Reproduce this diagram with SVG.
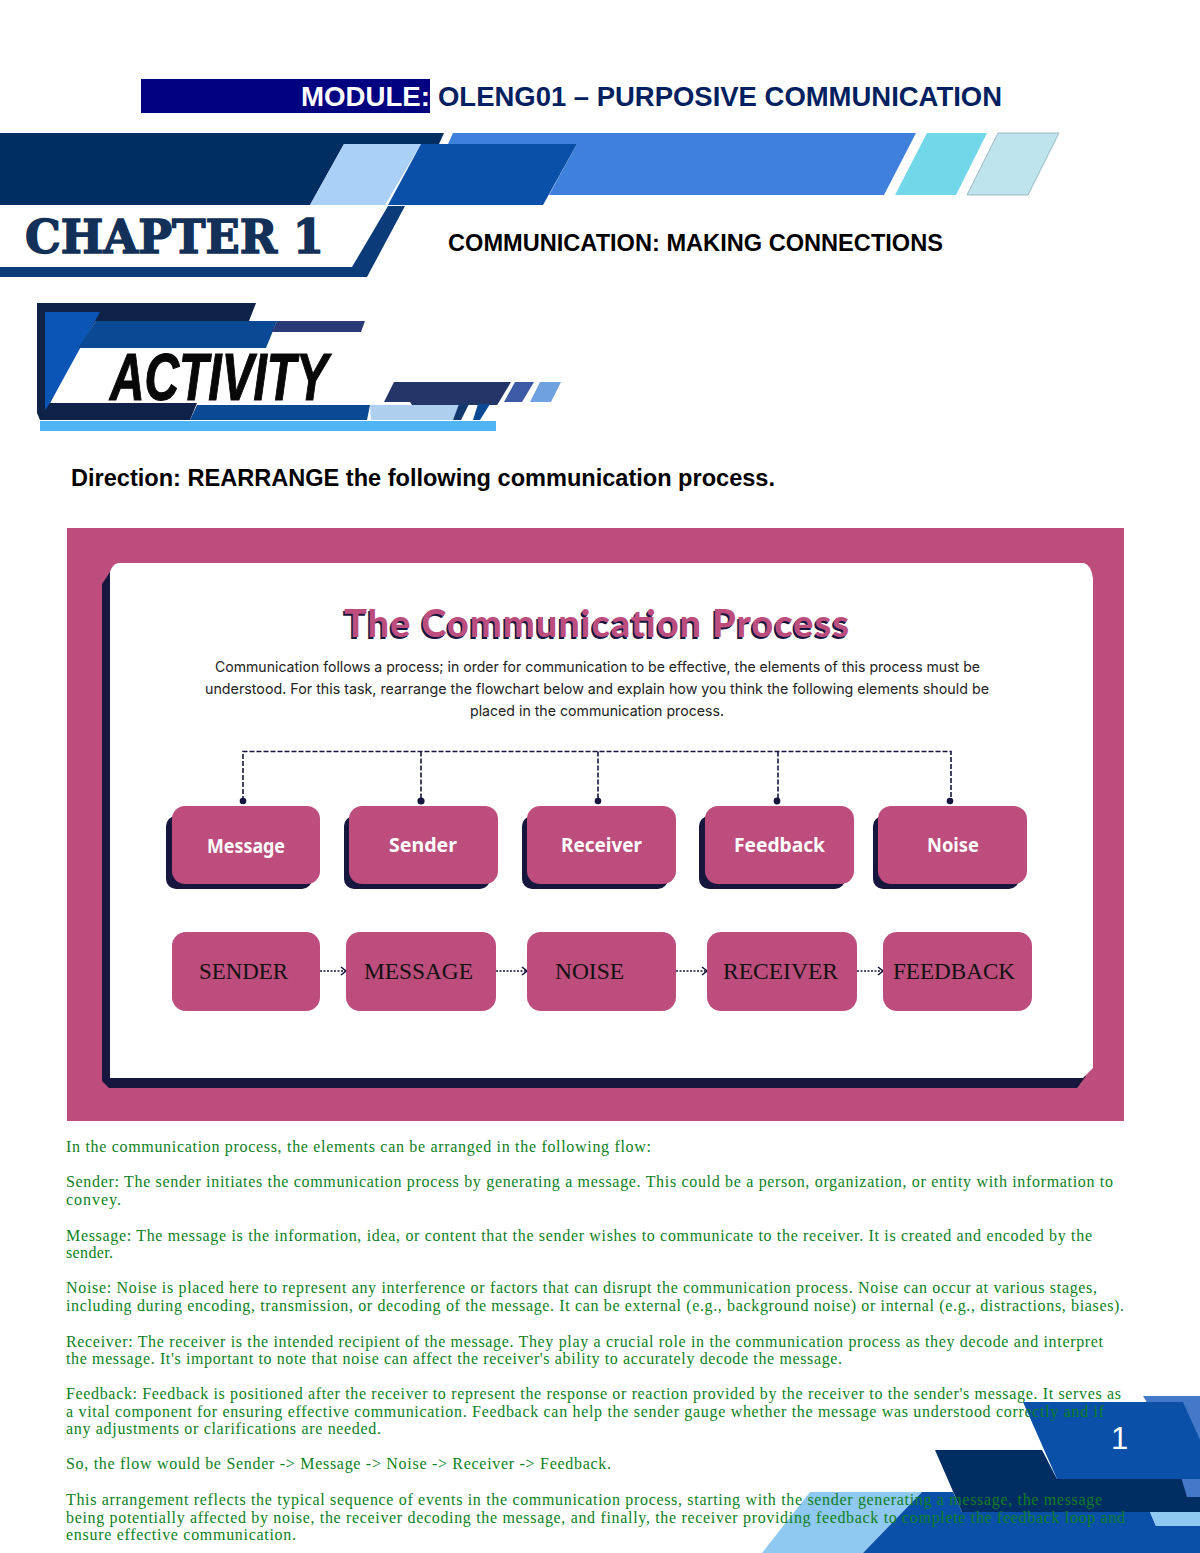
<svg xmlns="http://www.w3.org/2000/svg" width="1200" height="1553" viewBox="0 0 1200 1553">
<style>
.sans{font-family:"Liberation Sans",Arial,sans-serif}
.serif{font-family:"Liberation Serif","Times New Roman",serif}
.hd{font-size:27px;font-weight:bold}
.sub{font-size:23px;font-weight:bold;fill:#000}
.card{font-family:Inter,"Liberation Sans",sans-serif;font-size:14.5px;fill:#222}
.title{font-family:Lato,"Liberation Sans",sans-serif;font-size:38px;font-weight:900}
.pink{fill:#BC4D7C}
.dark{fill:#16163F}
.lbl{font-family:"Noto Sans","Liberation Sans",sans-serif;font-size:20px;font-weight:bold;fill:#fff}
.cap{font-family:"Liberation Serif",serif;font-size:24px;fill:#111}
.body{font-family:"Liberation Serif",serif;font-size:16px;fill:#0E7F22}
.dash{fill:none;stroke:#16163F;stroke-width:1.6;stroke-dasharray:5 2}
.dot{fill:none;stroke:#16163F;stroke-width:1.6;stroke-dasharray:2 1.5}
</style>
<defs>
<marker id="chev" markerWidth="8" markerHeight="10" refX="7" refY="5" orient="auto" markerUnits="userSpaceOnUse">
<path d="M2 1L7 5L2 9" fill="none" stroke="#16163F" stroke-width="1.6"/>
</marker>
</defs>
<rect width="1200" height="1553" fill="#fff"/>

<g id="header">
<rect x="141" y="79" width="289" height="34" fill="#000080"/>
<text class="sans hd" x="301" y="106" fill="#fff" textLength="129" lengthAdjust="spacingAndGlyphs">MODULE:</text>
<text class="sans hd" x="438" y="106" fill="#002060" textLength="564" lengthAdjust="spacingAndGlyphs">OLENG01 – PURPOSIVE COMMUNICATION</text>
</g>

<g id="chapter-banner">
<polygon points="453,133 916,133 884,195 549,195 577,144 448,144" fill="#4080DD"/>
<polygon points="927,133 987,133 956,195 895,195" fill="#72D7E8"/>
<polygon points="998,133 1059,133 1028,195 967,195" fill="#BEE5EE" stroke="#9DB8C0" stroke-width="1"/>
<polygon points="0,133 444,133 439,144 344,144 310,205 0,205" fill="#002D62"/>
<polygon points="344,144 421,144 385,205 310,205" fill="#AAD0F8"/>
<polygon points="421,144 577,144 543,205 388,205" fill="#0A4FA8"/>
<polygon points="388,206 405,206 367,277 0,277 0,267 352,267" fill="#0B3B78"/>
<text x="25" y="253" font-family="'DejaVu Serif',serif" font-size="47" font-weight="bold" fill="#123058" stroke="#123058" stroke-width="1.5" textLength="299" lengthAdjust="spacingAndGlyphs">CHAPTER 1</text>
<text class="sans sub" x="448" y="251" textLength="495" lengthAdjust="spacingAndGlyphs">COMMUNICATION: MAKING CONNECTIONS</text>
</g>

<g id="activity-banner">
<polygon points="40,421 496,421 496,431 40,431" fill="#4FB4F5"/>
<polygon points="370,405 459,405 453,420 371,420" fill="#AFCFEF"/>
<polygon points="37,303 256,303 249,321 96,321 78,348 50,403 197,403 190,420 40,420 37,413" fill="#0E2347"/>
<polygon points="45,312 100,312 50,403 45,410" fill="#0A55B5"/>
<polygon points="197,405 370,405 367,420 190,420" fill="#0A4A94"/>
<polygon points="96,321 277,321 266,348 78,348" fill="#0A4A94"/>
<polygon points="277,321 365,321 361,332 272,332" fill="#2B3B77"/>
<polygon points="394,382 511,382 499,402 384,402" fill="#243668"/>
<polygon points="515,382 534,382 522,402 504,402" fill="#3C5AA5"/>
<polygon points="540,382 561,382 551,402 530,402" fill="#6FA0E0"/>
<polygon points="410,402 499,402 497,405 412,405" fill="#243668"/>
<polygon points="459,404 469,404 461,420 453,420" fill="#12386F"/>
<polygon points="478,404 490,404 480,420 473,420" fill="#0A4A94"/>
<text class="sans" x="110" y="400" font-size="67" font-weight="bold" font-style="italic" fill="#080808" stroke="#080808" stroke-width="1.2" textLength="218" lengthAdjust="spacingAndGlyphs">ACTIVITY</text>
</g>

<text class="sans sub" x="71" y="486" textLength="704" lengthAdjust="spacingAndGlyphs">Direction: REARRANGE the following communication process.</text>

<g id="panel">
<rect x="67" y="528" width="1057" height="593" class="pink"/>
<path d="M110 572L102 584V1081L109 1088H1077L1086 1076H110Z" class="dark"/>
<path d="M118 563H1084Q1091 565 1093 578V1068L1083 1078H110V572Q112 565 118 563Z" fill="#fff"/>
<text class="title dark" x="342.5" y="638.5" textLength="505" lengthAdjust="spacing">The Communication Process</text>
<text class="title pink" x="344" y="637" textLength="505" lengthAdjust="spacing">The Communication Process</text>
<text class="card" x="215" y="672" textLength="765" lengthAdjust="spacingAndGlyphs">Communication follows a process; in order for communication to be effective, the elements of this process must be</text>
<text class="card" x="205" y="694" textLength="784" lengthAdjust="spacingAndGlyphs">understood. For this task, rearrange the flowchart below and explain how you think the following elements should be</text>
<text class="card" x="470" y="716" textLength="254" lengthAdjust="spacingAndGlyphs">placed in the communication process.</text>
</g>

<g id="connectors">
<path class="dash" d="M243 801V751.5H951V801M421 751.5V801M598 751.5V801M778 751.5V801"/>
<circle class="dark" cx="243" cy="801" r="3.3"/>
<circle class="dark" cx="421" cy="801" r="3.6"/>
<circle class="dark" cx="598" cy="801" r="3.3"/>
<circle class="dark" cx="777" cy="801" r="3.4"/>
<circle class="dark" cx="950" cy="801" r="3.3"/>
<path class="dot" d="M320 971H346" marker-end="url(#chev)"/>
<path class="dot" d="M496 971H527" marker-end="url(#chev)"/>
<path class="dot" d="M676 971H707" marker-end="url(#chev)"/>
<path class="dot" d="M857 971H883" marker-end="url(#chev)"/>
</g>

<g id="node-message"><rect x="166" y="816" width="146" height="73" rx="10" class="dark"/><rect x="172" y="806" width="148" height="78" rx="13" class="pink"/><text class="lbl" x="207" y="853" textLength="78" lengthAdjust="spacingAndGlyphs">Message</text></g>
<g id="node-sender"><rect x="344" y="816" width="146" height="73" rx="10" class="dark"/><rect x="349" y="806" width="149" height="78" rx="13" class="pink"/><text class="lbl" x="389" y="852" textLength="68" lengthAdjust="spacingAndGlyphs">Sender</text></g>
<g id="node-receiver"><rect x="522" y="816" width="146" height="73" rx="10" class="dark"/><rect x="527" y="806" width="149" height="78" rx="13" class="pink"/><text class="lbl" x="561" y="852" textLength="81" lengthAdjust="spacingAndGlyphs">Receiver</text></g>
<g id="node-feedback"><rect x="699" y="816" width="146" height="73" rx="10" class="dark"/><rect x="705" y="806" width="149" height="78" rx="13" class="pink"/><text class="lbl" x="734" y="852" textLength="91" lengthAdjust="spacingAndGlyphs">Feedback</text></g>
<g id="node-noise"><rect x="873" y="816" width="146" height="73" rx="10" class="dark"/><rect x="878" y="806" width="149" height="78" rx="13" class="pink"/><text class="lbl" x="927" y="852" textLength="52" lengthAdjust="spacingAndGlyphs">Noise</text></g>

<g id="answer-sender"><rect x="172" y="932" width="148" height="79" rx="14" class="pink"/><text class="cap" x="199" y="979" textLength="89" lengthAdjust="spacingAndGlyphs">SENDER</text></g>
<g id="answer-message"><rect x="346" y="932" width="150" height="79" rx="14" class="pink"/><text class="cap" x="364" y="979" textLength="109" lengthAdjust="spacingAndGlyphs">MESSAGE</text></g>
<g id="answer-noise"><rect x="527" y="932" width="149" height="79" rx="14" class="pink"/><text class="cap" x="555" y="979" textLength="69" lengthAdjust="spacingAndGlyphs">NOISE</text></g>
<g id="answer-receiver"><rect x="707" y="932" width="150" height="79" rx="14" class="pink"/><text class="cap" x="723" y="979" textLength="115" lengthAdjust="spacingAndGlyphs">RECEIVER</text></g>
<g id="answer-feedback"><rect x="883" y="932" width="149" height="79" rx="14" class="pink"/><text class="cap" x="893" y="979" textLength="122" lengthAdjust="spacingAndGlyphs">FEEDBACK</text></g>

<g id="footer">
<polygon points="810,1492 922,1492 863,1553 762,1553" fill="#8FC8F0"/>
<polygon points="922,1492 953,1492 962,1512 1150,1512 1156,1526 1200,1526 1200,1553 863,1553" fill="#0A4FA8"/>
<polygon points="1150,1512 1200,1512 1200,1526 1156,1526" fill="#8FC8F0"/>
<polygon points="935,1450 1042,1450 1057,1479 1200,1479 1200,1512 962,1512" fill="#002D62"/>
<polygon points="1143,1396 1200,1396 1200,1497 1187,1497 1170,1440" fill="#4478C8"/>
<polygon points="1023,1402 1183,1402 1200,1440 1200,1479 1057,1479" fill="#0A4FA8"/>
<text class="sans" x="1111" y="1449" font-size="31" fill="#fff">1</text>
</g>

<g id="answer-text">
<text class="body" x="66" y="1152" textLength="585" lengthAdjust="spacing">In the communication process, the elements can be arranged in the following flow:</text>
<text class="body" x="66" y="1187" textLength="1047" lengthAdjust="spacing">Sender: The sender initiates the communication process by generating a message. This could be a person, organization, or entity with information to</text>
<text class="body" x="66" y="1205" textLength="55" lengthAdjust="spacing">convey.</text>
<text class="body" x="66" y="1241" textLength="1026" lengthAdjust="spacing">Message: The message is the information, idea, or content that the sender wishes to communicate to the receiver. It is created and encoded by the</text>
<text class="body" x="66" y="1258" textLength="47" lengthAdjust="spacing">sender.</text>
<text class="body" x="66" y="1293" textLength="1031" lengthAdjust="spacing">Noise: Noise is placed here to represent any interference or factors that can disrupt the communication process. Noise can occur at various stages,</text>
<text class="body" x="66" y="1311" textLength="1058" lengthAdjust="spacing">including during encoding, transmission, or decoding of the message. It can be external (e.g., background noise) or internal (e.g., distractions, biases).</text>
<text class="body" x="66" y="1347" textLength="1037" lengthAdjust="spacing">Receiver: The receiver is the intended recipient of the message. They play a crucial role in the communication process as they decode and interpret</text>
<text class="body" x="66" y="1364" textLength="776" lengthAdjust="spacing">the message. It's important to note that noise can affect the receiver's ability to accurately decode the message.</text>
<text class="body" x="66" y="1399" textLength="1055" lengthAdjust="spacing">Feedback: Feedback is positioned after the receiver to represent the response or reaction provided by the receiver to the sender's message. It serves as</text>
<text class="body" x="66" y="1417" textLength="1038" lengthAdjust="spacing">a vital component for ensuring effective communication. Feedback can help the sender gauge whether the message was understood correctly and if</text>
<text class="body" x="66" y="1434" textLength="315" lengthAdjust="spacing">any adjustments or clarifications are needed.</text>
<text class="body" x="66" y="1469" textLength="545" lengthAdjust="spacing">So, the flow would be Sender -&gt; Message -&gt; Noise -&gt; Receiver -&gt; Feedback.</text>
<text class="body" x="66" y="1505" textLength="1036" lengthAdjust="spacing">This arrangement reflects the typical sequence of events in the communication process, starting with the sender generating a message, the message</text>
<text class="body" x="66" y="1523" textLength="1059" lengthAdjust="spacing">being potentially affected by noise, the receiver decoding the message, and finally, the receiver providing feedback to complete the feedback loop and</text>
<text class="body" x="66" y="1540" textLength="230" lengthAdjust="spacing">ensure effective communication.</text>
</g>
</svg>
